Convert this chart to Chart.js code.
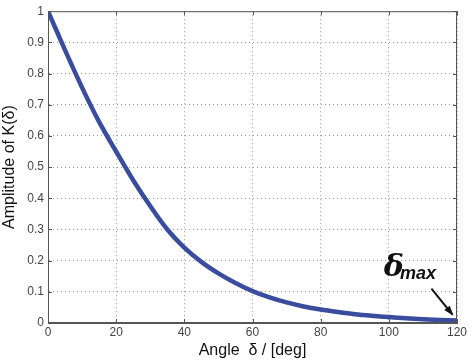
<!DOCTYPE html>
<html>
<head>
<meta charset="utf-8">
<script src="https://cdn.jsdelivr.net/npm/chart.js@4"></script>
<style>
  html, body { margin: 0; padding: 0; background: #fff; }
  #wrap { width: 474px; height: 362px; }
</style>
</head>
<body>
<div id="wrap"><canvas id="chart" width="474" height="362"></canvas></div>
<script>
// ── Data ────────────────────────────────────────────────────
const angles    = [0, 5, 10, 15, 20, 25, 30, 35, 40, 45, 50, 55, 60,
                   65, 70, 75, 80, 85, 90, 95, 100, 105, 110, 115, 120];
const amplitude = [1.0, 0.875, 0.755, 0.645, 0.55, 0.458, 0.375, 0.30, 0.242, 0.196, 0.159, 0.128, 0.102,
                   0.082, 0.066, 0.053, 0.043, 0.035, 0.028, 0.023, 0.019, 0.015, 0.012, 0.010, 0.008];
const xTicks = [0, 20, 40, 60, 80, 100, 120];
const yTicks = [0, 0.1, 0.2, 0.3, 0.4, 0.5, 0.6, 0.7, 0.8, 0.9, 1];

const FONT = 'Arial, "Liberation Sans", sans-serif';

// ── Frame, inward ticks and the δmax note ───────────────────
const framePlugin = {
  id: 'frame',
  afterDraw(chart) {
    const { ctx, chartArea: a, scales: { x, y } } = chart;
    ctx.save();
    ctx.strokeStyle = '#555';
    ctx.lineWidth = 1;
    ctx.strokeRect(a.left + 0.5, a.top + 0.5, a.right - a.left - 1, a.bottom - a.top - 1);
    ctx.beginPath();
    xTicks.forEach(v => {
      const px = Math.round(x.getPixelForValue(v)) + 0.5;
      ctx.moveTo(px, a.bottom); ctx.lineTo(px, a.bottom - 4);
      ctx.moveTo(px, a.top);    ctx.lineTo(px, a.top + 4);
    });
    yTicks.forEach(v => {
      const py = Math.round(y.getPixelForValue(v)) + 0.5;
      ctx.moveTo(a.left, py);  ctx.lineTo(a.left + 4, py);
      ctx.moveTo(a.right, py); ctx.lineTo(a.right - 4, py);
    });
    ctx.stroke();

    // δmax label
    ctx.fillStyle = '#111';
    ctx.textBaseline = 'alphabetic';
    ctx.font = 'italic bold 30px "DejaVu Serif", serif';
    ctx.fillText('δ', x.getPixelForValue(98.5), y.getPixelForValue(0.15));
    ctx.font = 'italic bold 18px ' + FONT;
    ctx.fillText('max', x.getPixelForValue(103.3), y.getPixelForValue(0.14));

    // arrow
    const x0 = x.getPixelForValue(112.5), y0 = y.getPixelForValue(0.11);
    const x1 = x.getPixelForValue(118.6), y1 = y.getPixelForValue(0.028);
    ctx.strokeStyle = '#111';
    ctx.lineWidth = 2;
    ctx.beginPath(); ctx.moveTo(x0, y0); ctx.lineTo(x1, y1); ctx.stroke();
    const ang = Math.atan2(y1 - y0, x1 - x0);
    ctx.beginPath();
    ctx.moveTo(x1 + 2 * Math.cos(ang), y1 + 2 * Math.sin(ang));
    ctx.lineTo(x1 - 9 * Math.cos(ang - 0.4), y1 - 9 * Math.sin(ang - 0.4));
    ctx.lineTo(x1 - 9 * Math.cos(ang + 0.4), y1 - 9 * Math.sin(ang + 0.4));
    ctx.closePath();
    ctx.fillStyle = '#111';
    ctx.fill();
    ctx.restore();
  }
};

new Chart(document.getElementById('chart'), {
  type: 'line',
  data: {
    datasets: [{
      data: angles.map((a, i) => ({ x: a, y: amplitude[i] })),
      borderColor: '#3a4c9e',
      borderWidth: 4.5,
      pointRadius: 0,
      cubicInterpolationMode: 'monotone',
      fill: false
    }]
  },
  options: {
    responsive: false,
    animation: false,
    layout: { padding: { top: 5, right: 17, left: 0, bottom: 0 } },
    plugins: { legend: { display: false }, tooltip: { enabled: false } },
    scales: {
      x: {
        type: 'linear', min: 0, max: 120,
        afterBuildTicks: s => { s.ticks = xTicks.map(v => ({ value: v })); },
        afterFit: s => { s.height = 39; },
        ticks: { color: '#444', font: { family: FONT, size: 12 }, padding: 2, maxRotation: 0 },
        grid: { color: '#9a9a9a', drawTicks: false },
        border: { display: true, color: '#555', dash: [1, 3] },
        title: { display: true, text: 'Angle  δ / [deg]', color: '#111',
                 font: { family: FONT, size: 16 }, padding: { top: 0, bottom: 2 } }
      },
      y: {
        type: 'linear', min: 0, max: 1,
        afterBuildTicks: s => { s.ticks = yTicks.map(v => ({ value: v })); },
        afterFit: s => { s.width = 48; },
        ticks: { color: '#444', font: { family: FONT, size: 12 }, padding: 4,
                 callback: v => String(Math.round(v * 10) / 10) },
        grid: { color: '#9a9a9a', drawTicks: false },
        border: { display: true, color: '#555', dash: [1, 3] },
        title: { display: true, text: 'Amplitude of K(δ)', color: '#111',
                 font: { family: FONT, size: 16 }, padding: { top: 0, bottom: 2 } }
      }
    }
  },
  plugins: [framePlugin]
});
</script>
</body>
</html>
